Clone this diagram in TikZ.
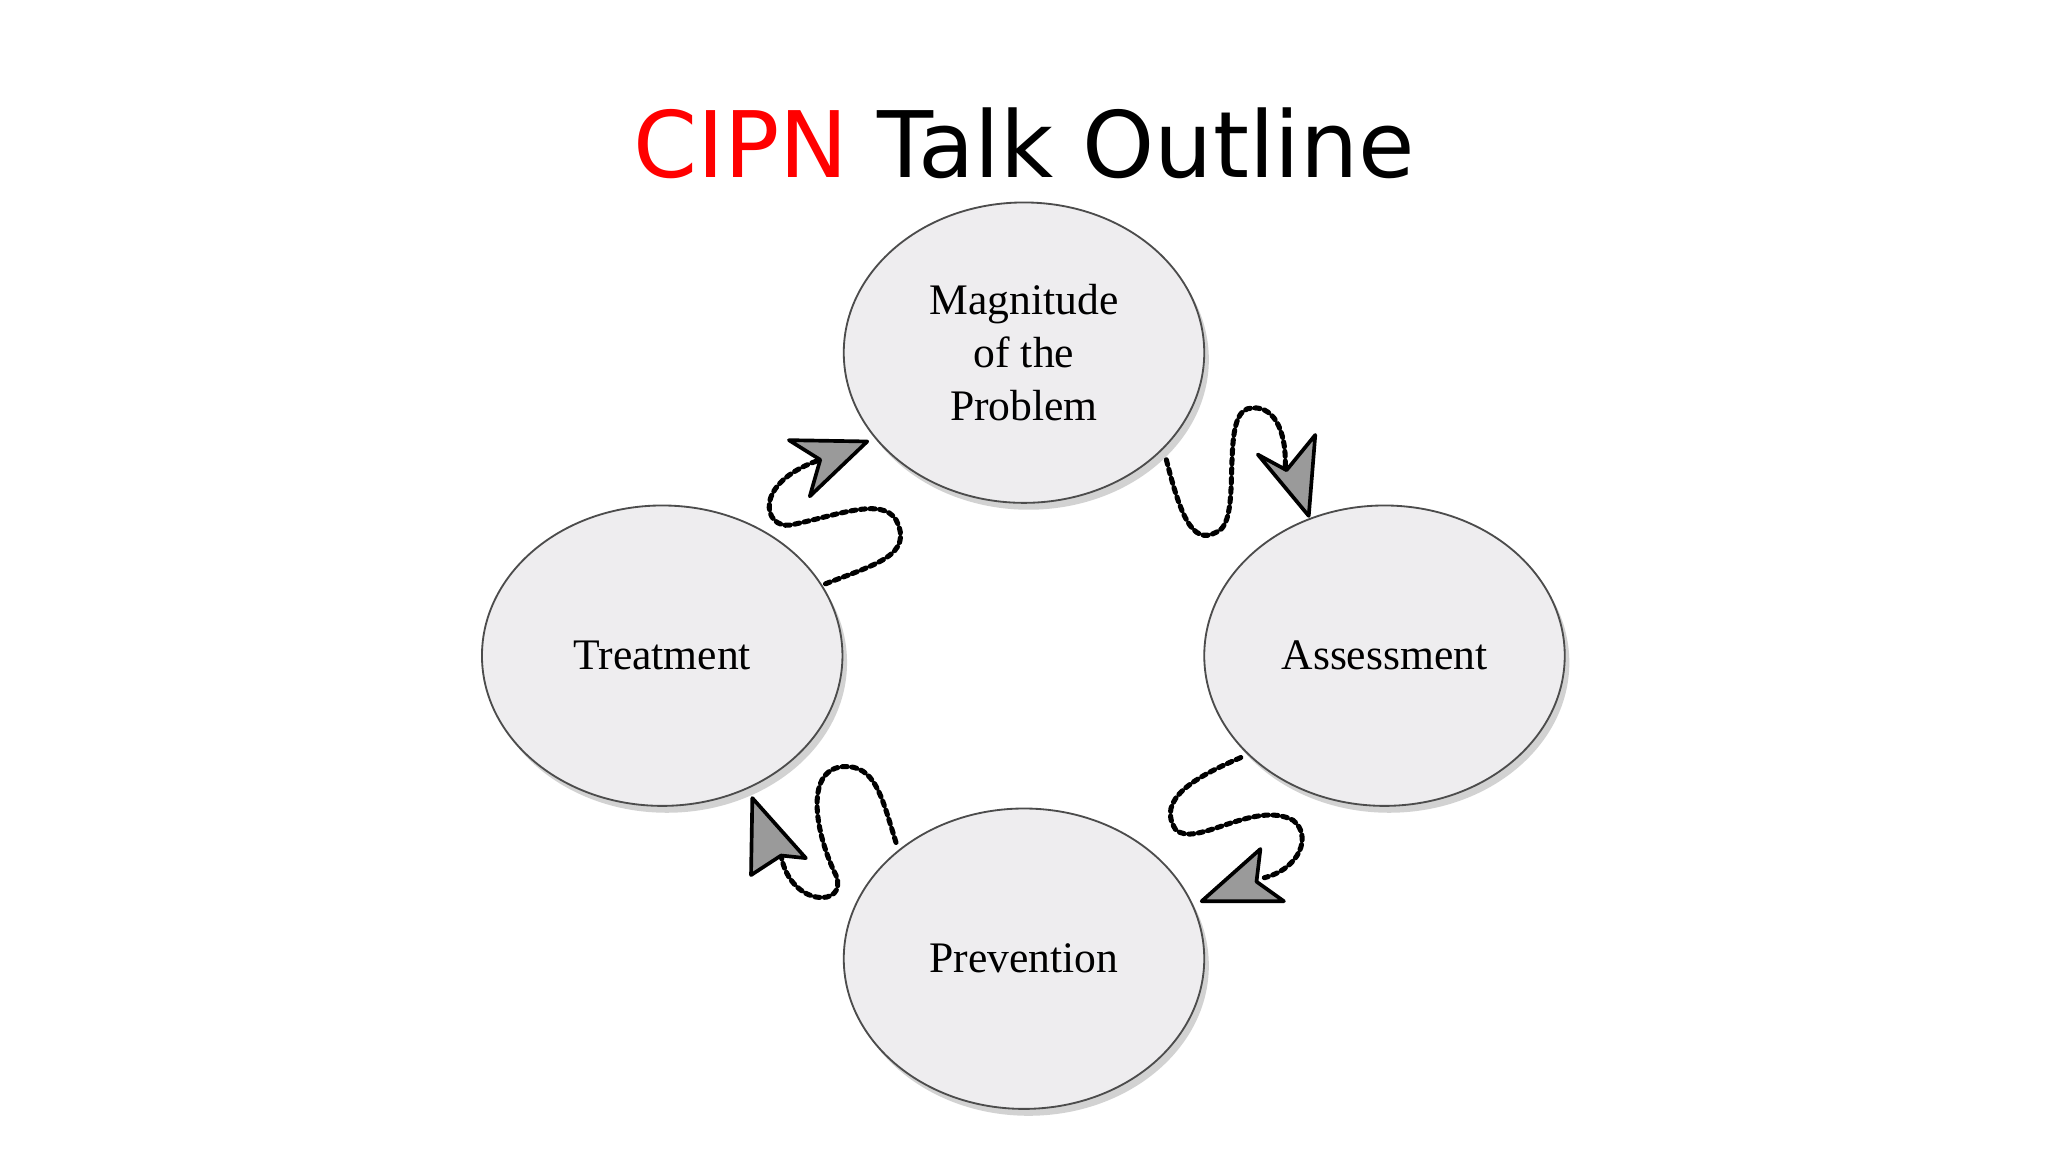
\documentclass[tikz,border=0pt]{standalone}
\usepackage{fontspec}
\setmainfont{Liberation Serif}
\newfontfamily\titlefont{DejaVu Sans}
\usetikzlibrary{shadows,shapes.geometric}
\definecolor{ellfill}{HTML}{EEEDEF}
\definecolor{planefill}{HTML}{9A9A9A}
\begin{document}
\begin{tikzpicture}[x=0.02cm,y=-0.02cm,
  blob/.style={ellipse,draw=black!70,line width=0.8pt,fill=ellfill,minimum width=276*0.02cm,minimum height=230*0.02cm,align=center,font=\fontsize{19}{23}\selectfont,drop shadow={shadow xshift=2pt,shadow yshift=-3pt,opacity=0.35}},
  dots/.style={line width=2.2pt,dotted,line cap=round},
  plane/.style={fill=planefill,draw=black,line width=1.6pt,line join=round}]
\useasboundingbox (0,0) rectangle (1568,882);
\fill[white] (0,0) rectangle (1568,882);
\node (title) at (784,110) {\titlefont\fontsize{40}{48}\selectfont\textcolor{red}{CIPN} Talk Outline};
\node[blob] (mag) at (784,270) {Magnitude\\of the\\Problem};
\node[blob] (tre) at (507,502) {Treatment};
\node[blob] (ass) at (1060,502) {Assessment};
\node[blob] (pre) at (784,734) {Prevention};
% top-right
\coordinate (a1) at (893,352); \coordinate (n1) at (984,357);
\draw[dots] (a1) .. controls (905,400) and (915,420) .. (935,405) .. controls (950,390) and (935,320) .. (955,313) .. controls (975,308) and (985,330) .. (n1);
\draw[plane] (1002,395) -- (963,348) -- (985,360) -- (1007,333) -- cycle;
% top-left
\coordinate (a2) at (632,447); \coordinate (n2) at (628,352);
\draw[dots] (a2) .. controls (670,432) and (700,425) .. (686,398) .. controls (675,380) and (640,395) .. (605,402) .. controls (585,405) and (575,370) .. (n2);
\draw[plane] (664,338) -- (604,337) -- (628,352) -- (620,380) -- cycle;
% bottom-right
\coordinate (a3) at (950,580); \coordinate (n3) at (968,672);
\draw[dots] (a3) .. controls (915,595) and (885,612) .. (900,635) .. controls (915,650) and (960,612) .. (990,628) .. controls (1005,640) and (995,665) .. (n3);
\draw[plane] (920,690) -- (983,690) -- (962,675) -- (965,650) -- cycle;
% bottom-left
\coordinate (a4) at (686,645); \coordinate (n4) at (598,655);
\draw[dots] (a4) .. controls (675,610) and (670,585) .. (645,587) .. controls (615,590) and (625,640) .. (640,670) .. controls (650,695) and (605,695) .. (n4);
\draw[plane] (576,611) -- (575,670) -- (598,655) -- (617,657) -- cycle;
\end{tikzpicture}
\end{document}
